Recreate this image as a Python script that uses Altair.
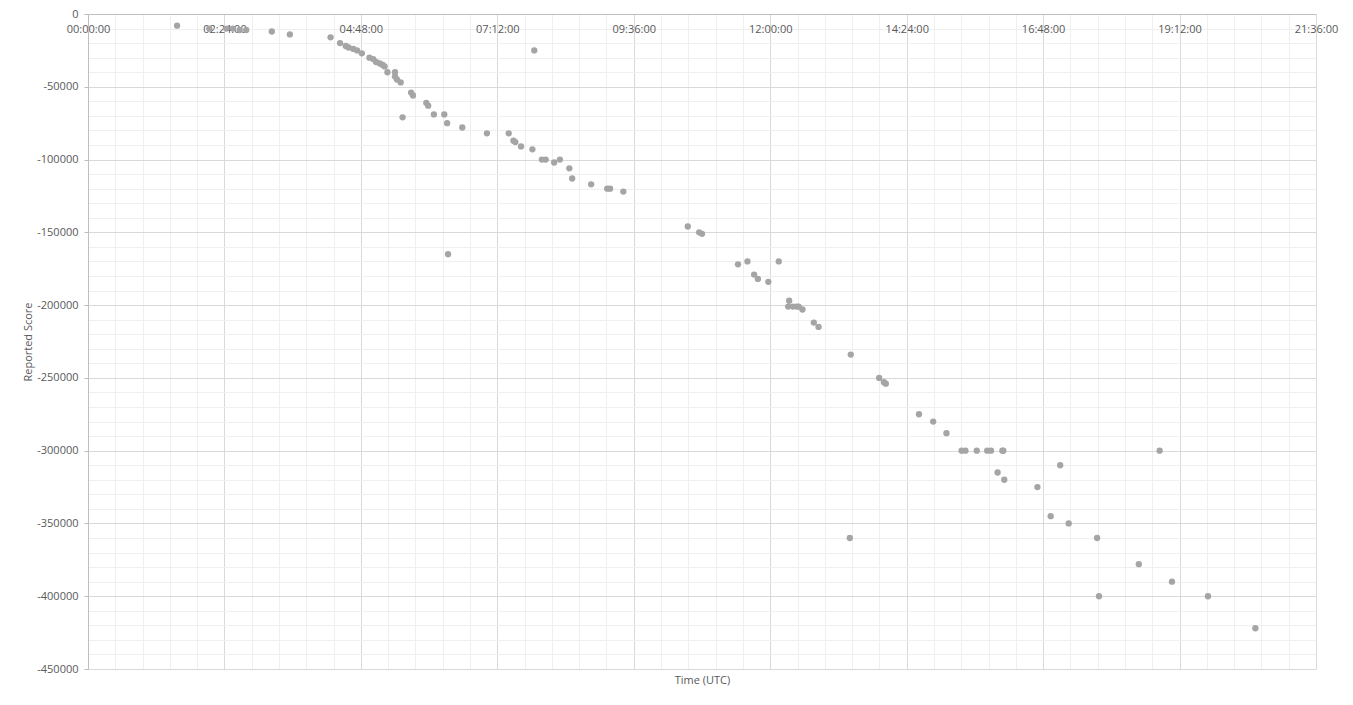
import altair as alt
import pandas as pd

# Reported time (UTC, HH:MM) and reported score
times = [
    "1:34", "2:08", "2:26", "2:33", "2:40", "2:47", "3:14", "3:33", "4:16", "4:26",
    "4:32", "4:35", "4:40", "4:44", "4:49", "4:57", "5:01", "5:04", "5:08", "5:11",
    "5:13", "5:16", "5:24", "5:24", "5:26", "5:30", "5:41", "5:43", "5:32", "5:57",
    "5:59", "6:05", "6:16", "6:19", "6:20", "6:35", "7:01", "7:24", "7:29", "7:31",
    "7:37", "7:49", "7:51", "7:59", "8:03", "8:12", "8:18", "8:28", "8:31", "8:51",
    "9:08", "9:11", "9:25", "10:33", "10:45", "10:48", "11:26", "11:36", "11:43", "11:47",
    "11:58", "12:09", "12:20", "12:19", "12:24", "12:28", "12:30", "12:34", "12:46", "12:51",
    "13:25", "13:24", "13:55", "14:00", "14:02", "14:37", "14:52", "15:06", "15:22", "15:26",
    "15:38", "15:49", "15:53", "16:05", "16:06", "16:00", "16:07", "16:42", "16:56", "17:06",
    "17:15", "17:45", "17:47", "18:29", "18:51", "19:04", "19:42", "20:32",
]
scores = [
    -8000, -10000, -10000, -10000, -11000, -11000, -12000, -14000, -16000, -20000,
    -22000, -23000, -24000, -25000, -27000, -30000, -31000, -33000, -34000, -35000,
    -36000, -40000, -40000, -43000, -45000, -47000, -54000, -56000, -71000, -61000,
    -63000, -69000, -69000, -75000, -165000, -78000, -82000, -82000, -87000, -88000,
    -91000, -93000, -25000, -100000, -100000, -102000, -100000, -106000, -113000, -117000,
    -120000, -120000, -122000, -146000, -150000, -151000, -172000, -170000, -179000, -182000,
    -184000, -170000, -197000, -201000, -201000, -201000, -201000, -203000, -212000, -215000,
    -234000, -360000, -250000, -253000, -254000, -275000, -280000, -288000, -300000, -300000,
    -300000, -300000, -300000, -300000, -300000, -315000, -320000, -325000, -345000, -310000,
    -350000, -360000, -400000, -378000, -300000, -390000, -400000, -422000,
]


def to_hours(t):
    h, m = t.split(":")
    return int(h) + int(m) / 60.0


df = pd.DataFrame({
    "time": times,
    "hours": [to_hours(t) for t in times],
    "score": scores,
})

W, H = 1228, 655
FONT = "Open Sans"
TXT = "#595959"

x_major = [round(i * 2.4, 4) for i in range(10)]
x_minor = [round(i * 0.48, 4) for i in range(46)]
y_major = list(range(-450000, 1, 50000))
y_minor = list(range(-450000, 1, 10000))

xscale = alt.Scale(domain=[0, 21.6], nice=False, zero=False)
yscale = alt.Scale(domain=[-450000, 0], nice=False)

minor = alt.Chart(df).mark_circle(opacity=0).encode(
    x=alt.X(
        "hours:Q", scale=xscale,
        axis=alt.Axis(
            orient="bottom", values=x_minor, labels=False, ticks=False, domain=False,
            grid=True, gridColor="#efefef", gridWidth=1,
            title="Time (UTC)", titlePadding=5, titleFont=FONT, titleFontSize=11,
            titleFontWeight="normal", titleColor=TXT,
        ),
    ),
    y=alt.Y(
        "score:Q", scale=yscale,
        axis=alt.Axis(
            orient="left", values=y_minor, labels=False, ticks=False, domain=False,
            grid=True, gridColor="#efefef", gridWidth=1,
            title="Reported Score", titlePadding=55, titleFont=FONT, titleFontSize=11,
            titleFontWeight="normal", titleColor=TXT,
        ),
    ),
)

main = alt.Chart(df).mark_circle(size=40, color="#a5a5a5", opacity=1).encode(
    x=alt.X(
        "hours:Q", scale=xscale,
        axis=alt.Axis(
            orient="bottom", offset=-H, values=x_major,
            labelExpr="utcFormat(datum.value * 3600000, '%H:%M:%S')",
            ticks=False, domain=True, domainColor="#bfbfbf",
            grid=True, gridColor="#d9d9d9", gridWidth=1,
            labelPadding=9, labelFont=FONT, labelFontSize=11, labelColor=TXT,
            labelFlush=False, labelOverlap=False, title=None,
        ),
    ),
    y=alt.Y(
        "score:Q", scale=yscale,
        axis=alt.Axis(
            orient="left", values=y_major, labelExpr="datum.value + ''",
            tickSize=4, tickColor="#bfbfbf", domainColor="#bfbfbf",
            grid=True, gridColor="#d9d9d9", gridWidth=1,
            labelPadding=6, labelFont=FONT, labelFontSize=11, labelColor=TXT,
            labelOverlap=False, labelFlush=False, title=None,
        ),
    ),
    tooltip=["time:N", "score:Q"],
)

chart = (
    alt.layer(minor, main)
    .resolve_axis(x="independent", y="independent")
    .properties(
        width=W, height=H,
        autosize=alt.AutoSizeParams(type="none"),
        padding={"left": 80, "top": 6, "right": 29, "bottom": 28},
        background="white",
    )
    .configure_view(strokeWidth=0)
)

chart.save("out.html", embed_options={"renderer": "svg", "actions": False})
